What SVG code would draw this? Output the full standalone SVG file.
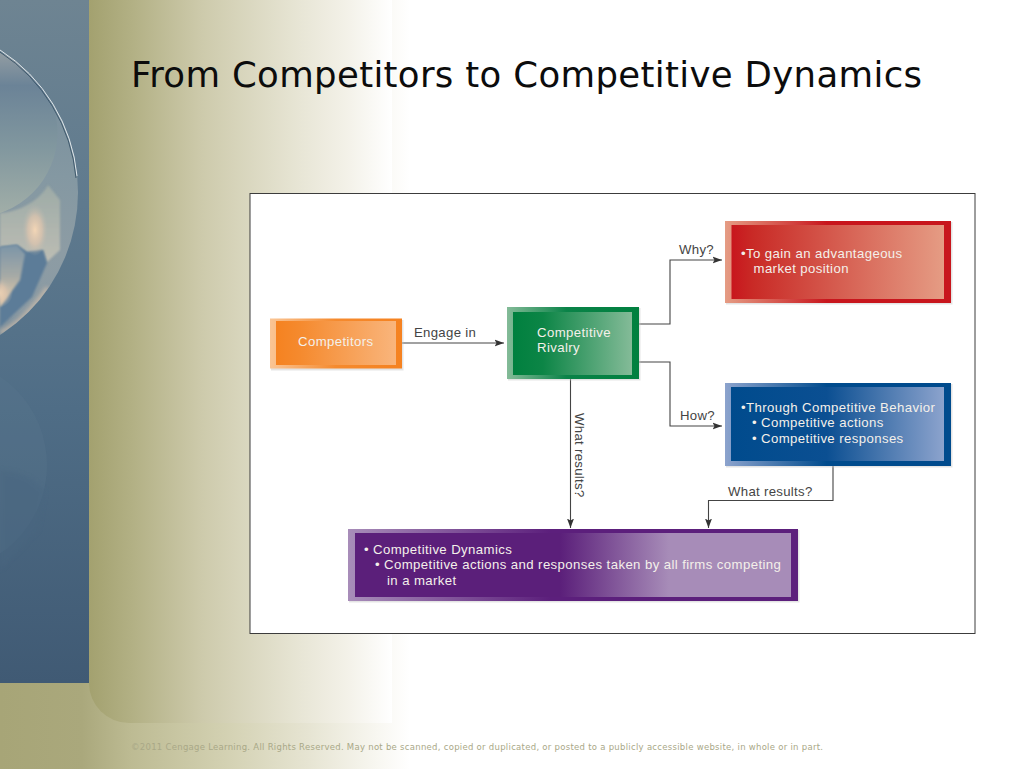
<svg xmlns="http://www.w3.org/2000/svg" width="1024" height="769" viewBox="0 0 1024 769">
<defs>
<linearGradient id="bgA" gradientUnits="userSpaceOnUse" x1="0" y1="0" x2="410" y2="0"><stop offset="0" stop-color="#a7a577"/><stop offset=".2" stop-color="#aaa87c"/><stop offset=".32" stop-color="#bdbb93"/><stop offset=".55" stop-color="#d3d1b2"/><stop offset=".75" stop-color="#e6e4d2"/><stop offset=".92" stop-color="#f8f7f1"/><stop offset="1" stop-color="#fff"/></linearGradient>
<linearGradient id="bgB" gradientUnits="userSpaceOnUse" x1="89" y1="0" x2="392" y2="0"><stop offset="0" stop-color="#a3a16f"/><stop offset=".14" stop-color="#b2b084"/><stop offset=".37" stop-color="#cdcaab"/><stop offset=".7" stop-color="#e8e6d6"/><stop offset=".85" stop-color="#f3f1e8"/><stop offset="1" stop-color="#fff"/></linearGradient>
<linearGradient id="sea" x1="0" y1="0" x2="0" y2="1"><stop offset="0" stop-color="#6e8492"/><stop offset=".3" stop-color="#5f7a8e"/><stop offset=".6" stop-color="#4f6d86"/><stop offset="1" stop-color="#405a74"/></linearGradient>
<linearGradient id="globe" x1="0" y1="0" x2="0" y2="1"><stop offset="0" stop-color="#6f8798"/><stop offset=".45" stop-color="#8498a2"/><stop offset=".68" stop-color="#8d9ca4"/><stop offset=".85" stop-color="#8a9aa3"/><stop offset="1" stop-color="#5a7890"/></linearGradient>
<linearGradient id="lens" x1="0" y1="0" x2="0" y2="1"><stop offset="0" stop-color="#97a0a4"/><stop offset=".22" stop-color="#6b8397"/><stop offset=".6" stop-color="#82989f"/><stop offset="1" stop-color="#a3afa8"/></linearGradient>
<linearGradient id="land" x1="0" y1="0" x2="0" y2="1"><stop offset="0" stop-color="#a3afa8"/><stop offset="1" stop-color="#c9c6b8"/></linearGradient>
<linearGradient id="pool" x1="0" y1="0" x2="0" y2="1"><stop offset="0" stop-color="#7c95a7"/><stop offset=".5" stop-color="#a6aaa6"/><stop offset="1" stop-color="#f2d2a8"/></linearGradient>
<radialGradient id="glow"><stop offset="0" stop-color="#f3d6b6"/><stop offset=".55" stop-color="#dfc5ae" stop-opacity=".7"/><stop offset="1" stop-color="#b8b8b0" stop-opacity="0"/></radialGradient>
<filter id="soft" x="-20%" y="-20%" width="140%" height="140%"><feGaussianBlur stdDeviation="2"/></filter>
<filter id="softer" x="-10%" y="-10%" width="120%" height="120%"><feGaussianBlur stdDeviation=".8"/></filter>
<clipPath id="panel"><rect x="0" y="0" width="89" height="683"/></clipPath>
<clipPath id="ball"><circle cx="-91" cy="192.500" r="169"/></clipPath>
<linearGradient id="oF"><stop offset="0" stop-color="#fac595"/><stop offset=".5" stop-color="#f58a2e"/><stop offset="1" stop-color="#f58220"/></linearGradient>
<linearGradient id="oI"><stop offset="0" stop-color="#f58220"/><stop offset=".2" stop-color="#f58a2e"/><stop offset="1" stop-color="#f9b57c"/></linearGradient>
<linearGradient id="gF"><stop offset="0" stop-color="#84bb98"/><stop offset=".45" stop-color="#0a8348"/><stop offset="1" stop-color="#00803f"/></linearGradient>
<linearGradient id="gI"><stop offset="0" stop-color="#00803f"/><stop offset=".25" stop-color="#0c8546"/><stop offset="1" stop-color="#84bb98"/></linearGradient>
<linearGradient id="rF"><stop offset="0" stop-color="#e59c84"/><stop offset=".45" stop-color="#c8161d"/><stop offset="1" stop-color="#c8161d"/></linearGradient>
<linearGradient id="rI"><stop offset="0" stop-color="#c8161d"/><stop offset=".1" stop-color="#c92a26"/><stop offset="1" stop-color="#e59c84"/></linearGradient>
<linearGradient id="bF"><stop offset="0" stop-color="#8ca3cd"/><stop offset=".45" stop-color="#004b8d"/><stop offset="1" stop-color="#004b8d"/></linearGradient>
<linearGradient id="bI"><stop offset="0" stop-color="#004b8d"/><stop offset=".45" stop-color="#0b4f92"/><stop offset="1" stop-color="#8ca3cd"/></linearGradient>
<linearGradient id="pF"><stop offset="0" stop-color="#a88db9"/><stop offset=".45" stop-color="#5c1f7c"/><stop offset="1" stop-color="#5c1f7c"/></linearGradient>
<linearGradient id="pI" gradientUnits="userSpaceOnUse" x1="355" y1="0" x2="791" y2="0"><stop offset="0" stop-color="#5b1f7a"/><stop offset=".47" stop-color="#5b1f7a"/><stop offset=".72" stop-color="#a78cb8"/><stop offset="1" stop-color="#a78cb8"/></linearGradient>
<marker id="arrow" markerUnits="userSpaceOnUse" markerWidth="10" markerHeight="8" refX="9.500" refY="4" orient="auto"><path d="M0 0.500L9.500 4L0 7.500L2 4Z" fill="#333"/></marker>
</defs>
<style>
.wire{fill:none;stroke:#444;stroke-width:1.1;marker-end:url(#arrow)}
.lbl{font-family:"Liberation Sans",Arial,sans-serif;font-size:13.200px;letter-spacing:.3px;fill:#444}
.nt{font-family:"Liberation Sans",Arial,sans-serif;font-size:13.200px;letter-spacing:.4px;fill:#f4f0ea}
.sh{fill:#c4c4c4;opacity:.45}
</style>
<rect width="1024" height="769" fill="#fff"/>
<rect id="strip" width="410" height="769" fill="url(#bgA)"/>
<g clip-path="url(#panel)">
<rect width="89" height="683" fill="url(#sea)"/>
<circle cx="-60" cy="465" r="107" fill="#5a758c" opacity=".35"/>
<path d="M0 470L15 472L30 478L45 490L38 530L0 570Z" fill="#496680" opacity=".5" filter="url(#soft)"/>
<circle cx="-91" cy="192.500" r="169" fill="url(#globe)"/>
<g clip-path="url(#ball)">
<circle cx="-27" cy="133" r="84.500" fill="url(#lens)"/>
<path d="M0 213C20 212 40 200 48 185L60 200L60 250L47 262L43 250L27 252L17 245L0 247Z" fill="url(#land)" opacity=".8" filter="url(#softer)"/>
<path d="M0 247L17 245L27 252L43 250L47 263L32 297L0 327Z" fill="#5b7c98" filter="url(#softer)"/>
<path d="M0 247L17 245L25 254L20 280L0 307Z" fill="url(#pool)" filter="url(#softer)"/>
<path d="M0 333C15 327 30 314 48 288" fill="none" stroke="#d4c0ac" stroke-width="5" opacity=".75" filter="url(#soft)"/>
<ellipse cx="35" cy="230" rx="13" ry="26" fill="url(#glow)"/>
<circle cx="-2" cy="293" r="15" fill="url(#glow)"/>
</g>
<path d="M0 50A169 169 0 0 1 77 176" fill="none" stroke="#dfe6ea" stroke-width="1"/>
<path d="M0 52A169 169 0 0 1 76 178" fill="none" stroke="#2f4a60" stroke-width=".8"/>
</g>
<path id="sheet" d="M89 0H392V723H129A40 40 0 0 1 89 683Z" fill="url(#bgB)"/>
<text id="title" x="131" y="87" font-family="'DejaVu Sans',Verdana,sans-serif" font-size="35.500px" fill="#0c0c0c" textLength="791">From Competitors to Competitive Dynamics</text>
<text id="footer" x="131" y="749.500" font-family="'DejaVu Sans',Verdana,sans-serif" font-size="8.500px" fill="#a9a887" textLength="692">©2011 Cengage Learning. All Rights Reserved. May not be scanned, copied or duplicated, or posted to a publicly accessible website, in whole or in part.</text>
<rect id="figure" x="250" y="193.500" width="725" height="440" fill="#fff" stroke="#3c3c3c" stroke-width="1"/>
<g id="connectors">
<path class="wire" d="M402 343H504"/>
<path class="wire" d="M639 324H670V260H722"/>
<path class="wire" d="M639 362H670V426H722"/>
<path class="wire" d="M570.500 379V528"/>
<path class="wire" d="M833 466V500.500H708.500V528"/>
<text class="lbl" x="414" y="337">Engage in</text>
<text class="lbl" x="679" y="254">Why?</text>
<text class="lbl" x="680" y="420">How?</text>
<text class="lbl" x="728" y="496">What results?</text>
<text class="lbl" transform="translate(575 413) rotate(90)">What results?</text>
</g>
<g id="competitors">
<rect class="sh" x="271" y="320" width="132.500" height="50.500"/>
<rect x="270" y="318.500" width="132" height="50" fill="url(#oF)"/>
<rect x="276" y="321" width="120" height="44" fill="url(#oI)"/>
<text class="nt" x="298" y="346">Competitors</text>
</g>
<g id="rivalry">
<rect class="sh" x="508" y="308" width="132.500" height="72.500"/>
<rect x="507" y="307" width="132" height="72" fill="url(#gF)"/>
<rect x="513" y="312" width="119" height="63" fill="url(#gI)"/>
<text class="nt" x="537" y="336.500">Competitive</text>
<text class="nt" x="537" y="352">Rivalry</text>
</g>
<g id="why">
<rect class="sh" x="726" y="222" width="226.500" height="82.500"/>
<rect x="725" y="221" width="226" height="82" fill="url(#rF)"/>
<rect x="731.500" y="225" width="212.500" height="74" fill="url(#rI)"/>
<text class="nt" x="741" y="257.500">•To gain an advantageous</text>
<text class="nt" x="753.500" y="272.500">market position</text>
</g>
<g id="how">
<rect class="sh" x="726" y="384" width="226.500" height="83.500"/>
<rect x="725" y="383" width="226" height="83" fill="url(#bF)"/>
<rect x="731" y="387" width="213" height="74" fill="url(#bI)"/>
<text class="nt" x="741" y="412">•Through Competitive Behavior</text>
<text class="nt" x="752" y="427">• Competitive actions</text>
<text class="nt" x="752" y="443">• Competitive responses</text>
</g>
<g id="dynamics">
<rect class="sh" x="349" y="530" width="450.500" height="72.500"/>
<rect x="348" y="529" width="450" height="72" fill="url(#pF)"/>
<rect x="355" y="533" width="436" height="64" fill="url(#pI)"/>
<text class="nt" x="364" y="553.500">• Competitive Dynamics</text>
<text class="nt" x="375" y="569">• Competitive actions and responses taken by all firms competing</text>
<text class="nt" x="387" y="585">in a market</text>
</g>
</svg>
